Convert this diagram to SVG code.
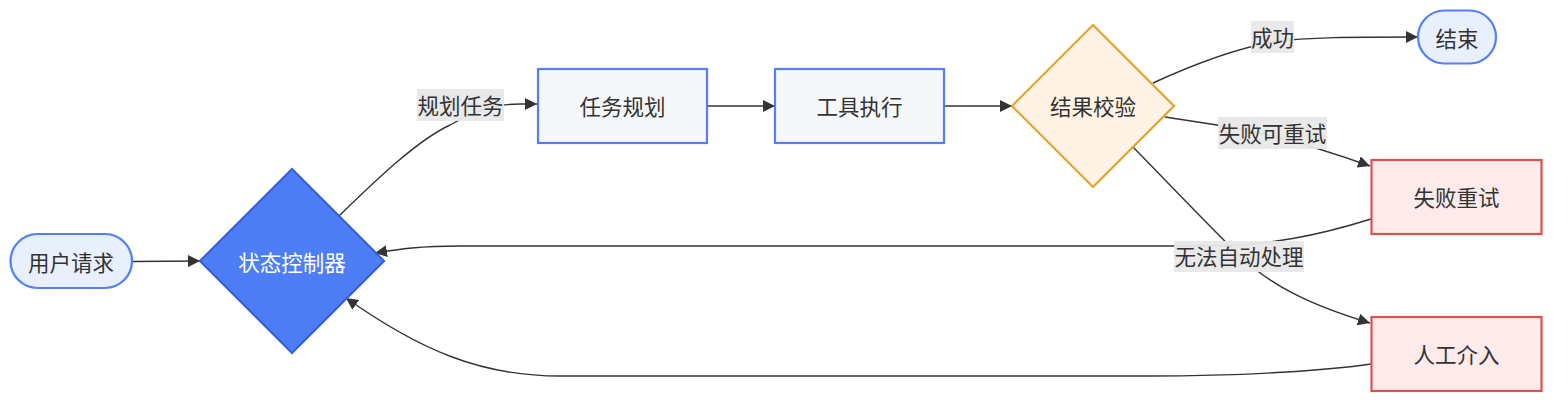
<svg xmlns="http://www.w3.org/2000/svg" width="1568" height="406" viewBox="0 0 1568 406">
<style>
text{font-family:"Noto Sans CJK SC","Liberation Sans",sans-serif;font-size:21.5px;fill:#333;text-anchor:middle;dominant-baseline:central}
.blue{fill:#e8effd;stroke:#5580f5;stroke-width:2.2}
.proc{fill:#f6f7f9;stroke:#5580f5;stroke-width:2.2}
.ctrl{fill:#4e7ef5;stroke:#3660d6;stroke-width:2.2}
.check{fill:#fff3e5;stroke:#e8a030;stroke-width:2.2}
.red{fill:#fdeaea;stroke:#d9534f;stroke-width:2.2}
.edge{fill:none;stroke:#333;stroke-width:1.4;marker-end:url(#arr)}
.lbl{fill:#e8e8e8;opacity:0.95}
</style>
<defs>
<marker id="arr" viewBox="0 0 10 10" refX="10" refY="5" markerWidth="12" markerHeight="12" markerUnits="userSpaceOnUse" orient="auto">
<path d="M0,0 L10,5 L0,10 z" fill="#333"/>
</marker>
</defs>
<g id="edges">
<path class="edge" d="M132,261.5 L200,261"/>
<path class="edge" d="M339.5,215.5 C378,178 418,140 450,125 C470,114 490,104 520,104 L537,104"/>
<path class="edge" d="M708,106 L775,106"/>
<path class="edge" d="M944,106 L1012,106"/>
<path class="edge" d="M1153,83 C1190,66 1230,50 1272,42 C1310,37 1350,37 1418,37"/>
<path class="edge" d="M1165,117 L1230,127 C1270,134 1320,148 1370,166"/>
<path class="edge" d="M1133,147 C1175,190 1215,232 1240,256 C1270,285 1310,305 1370,323"/>
<path class="edge" d="M1371,219 C1320,235 1270,246 1200,246 L460,246 C420,246 400,249 375,253"/>
<path class="edge" d="M1371,364 C1330,370 1250,376 1150,376 L560,376 C480,376 420,350 346,298"/>
</g>
<g id="edge-labels">
<g id="lbl-plan"><rect class="lbl" x="417" y="89" width="87" height="32"/><text x="460.5" y="104">规划任务</text></g>
<g id="lbl-ok"><rect class="lbl" x="1251" y="21" width="43" height="32"/><text x="1272.5" y="36">成功</text></g>
<g id="lbl-retry"><rect class="lbl" x="1218" y="117" width="109" height="32"/><text x="1272.5" y="132">失败可重试</text></g>
<g id="lbl-manual"><rect class="lbl" x="1174" y="241" width="130" height="31"/><text x="1239" y="255">无法自动处理</text></g>
</g>
<g id="n-user"><rect class="blue" x="10.5" y="234" width="121.5" height="54" rx="27"/><text x="71" y="261">用户请求</text></g>
<g id="n-ctrl"><polygon class="ctrl" points="292,169 384,261 292,353 200,261"/><text x="292" y="261" style="fill:#fff">状态控制器</text></g>
<g id="n-plan"><rect class="proc" x="538" y="69" width="169" height="74"/><text x="622.5" y="105">任务规划</text></g>
<g id="n-tool"><rect class="proc" x="775" y="69" width="169" height="74"/><text x="859.5" y="105">工具执行</text></g>
<g id="n-check"><polygon class="check" points="1093,25 1174,106 1093,187 1012,106"/><text x="1093" y="105">结果校验</text></g>
<g id="n-end"><rect class="blue" x="1418" y="10.5" width="78" height="53" rx="26.5"/><text x="1457" y="37">结束</text></g>
<g id="n-retry"><rect class="red" x="1371.5" y="160" width="170" height="74"/><text x="1456.5" y="196">失败重试</text></g>
<g id="n-manual"><rect class="red" x="1371.5" y="317" width="170" height="74"/><text x="1456.5" y="353">人工介入</text></g>
</svg>
